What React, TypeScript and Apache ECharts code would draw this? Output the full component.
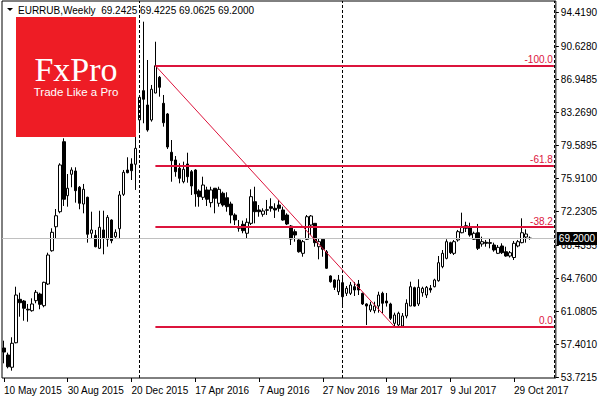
import React, { useEffect, useRef } from "react";
import * as echarts from "echarts";

// ---- categories (weekly bars, MT4 style; the week of 3 Jan 2016 has no bar) ----
const firstWeekUTC = Date.UTC(2015, 4, 10);
const missingWeeks = ["2016-01-03"];
const slotCount = 139; // bars + empty future slots
const monthNames = ["Jan", "Feb", "Mar", "Apr", "May", "Jun", "Jul", "Aug", "Sep", "Oct", "Nov", "Dec"];

function buildWeeks(): string[] {
  const out: string[] = [];
  let t = firstWeekUTC;
  while (out.length < slotCount) {
    const d = new Date(t);
    const iso = d.toISOString().slice(0, 10);
    if (!missingWeeks.includes(iso)) {
      out.push(`${d.getUTCDate()} ${monthNames[d.getUTCMonth()]} ${d.getUTCFullYear()}`);
    }
    t += 7 * 86400000;
  }
  return out;
}
const weeks = buildWeeks();

// ---- OHLC values ----
const opens = [
  56.96, 56.18, 54.81, 57.55, 62.40, 62.21, 61.29, 61.13, 62.25, 62.99,
  61.69, 64.11, 67.83, 70.51, 72.19, 80.01, 73.98, 76.37, 76.74, 74.92,
  73.05, 73.80, 69.78, 69.55, 68.10, 70.15, 69.11, 71.26, 69.40, 70.29,
  74.13, 76.85, 77.52, 77.49, 82.44, 85.71, 84.11, 82.44, 85.45, 87.21,
  84.30, 83.11, 78.83, 77.97, 77.04, 75.54, 77.52, 76.66, 76.85, 74.50,
  73.80, 74.62, 73.20, 74.81, 73.13, 74.25, 73.75, 73.05, 71.82, 70.51,
  70.78, 69.78, 70.89, 73.31, 72.38, 71.90, 72.40, 72.75, 72.57, 72.94,
  72.38, 71.82, 70.59, 69.96, 69.03, 67.54, 69.11, 70.70, 70.89, 68.28,
  69.11, 67.72, 65.01, 64.56, 63.25, 64.26, 63.07, 63.07, 63.81, 64.11,
  63.07, 61.88, 61.21, 61.13, 61.65, 63.07, 62.21, 61.88, 59.72, 59.53,
  59.42, 60.54, 61.65, 63.70, 61.88, 63.14, 62.88, 63.63, 63.81, 64.48,
  66.05, 66.98, 68.73, 67.54, 69.03, 69.84, 70.62, 70.51, 69.11, 69.84,
  68.58, 68.77, 68.73, 68.47, 67.54, 68.36, 67.72, 67.24, 67.07, 68.36,
  68.73, 69.36, 69.2425,
];
const highs = [
  57.78, 56.44, 58.16, 63.81, 63.14, 62.32, 61.88, 62.51, 63.44, 63.14,
  64.37, 67.61, 70.34, 72.49, 77.60, 80.39, 76.40, 77.15, 77.15, 75.06,
  75.29, 73.87, 72.19, 70.15, 72.30, 72.30, 71.82, 71.34, 70.22, 74.50,
  76.85, 78.27, 78.16, 80.76, 85.12, 93.42, 89.14, 86.35, 91.18, 87.35,
  85.23, 83.22, 80.20, 78.41, 77.60, 77.78, 78.78, 76.85, 76.93, 74.69,
  76.10, 74.98, 74.98, 74.81, 74.98, 74.43, 74.36, 73.31, 72.01, 71.26,
  71.19, 71.45, 74.69, 74.98, 72.94, 72.57, 73.50, 73.69, 73.13, 73.50,
  72.75, 72.01, 70.70, 70.22, 69.11, 69.03, 71.82, 71.82, 70.89, 69.22,
  69.11, 67.91, 65.08, 64.64, 65.12, 64.86, 63.89, 64.34, 64.34, 64.56,
  63.14, 61.96, 62.13, 62.13, 63.25, 63.25, 63.11, 62.02, 60.91, 61.02,
  60.87, 62.40, 64.37, 63.81, 64.64, 63.81, 63.89, 64.00, 64.70, 67.24,
  67.91, 69.11, 68.84, 69.03, 70.15, 72.08, 71.07, 70.96, 69.96, 70.82,
  69.40, 69.03, 69.25, 68.73, 68.47, 68.66, 68.28, 67.80, 68.92, 69.03,
  71.45, 70.22, 69.4225,
];
const lows = [
  55.25, 54.69, 54.43, 57.49, 60.46, 60.01, 59.90, 61.02, 61.96, 61.29,
  61.51, 64.00, 67.72, 69.22, 72.01, 72.83, 72.75, 74.92, 73.20, 72.46,
  72.01, 68.73, 69.22, 68.21, 68.02, 67.43, 68.28, 68.66, 69.22, 69.22,
  73.95, 76.48, 75.73, 74.62, 81.32, 82.07, 81.13, 82.25, 85.42, 85.04,
  81.69, 79.20, 75.54, 76.10, 75.36, 75.36, 75.43, 74.06, 72.75, 72.75,
  73.50, 72.83, 72.68, 72.01, 72.75, 72.75, 72.19, 70.89, 70.70, 69.96,
  69.78, 69.22, 70.70, 70.89, 71.63, 71.63, 71.82, 72.19, 71.49, 72.19,
  71.19, 70.70, 68.47, 68.84, 67.61, 67.16, 69.03, 69.59, 68.28, 66.87,
  67.16, 65.80, 64.26, 63.44, 62.88, 61.77, 62.77, 62.88, 62.77, 62.88,
  61.77, 59.53, 60.98, 60.84, 60.91, 60.84, 61.59, 60.09, 59.34, 59.40,
  59.38, 60.28, 61.65, 61.59, 61.65, 62.69, 62.55, 63.14, 63.74, 64.37,
  65.87, 66.87, 67.46, 67.35, 68.84, 69.78, 69.92, 69.40, 69.03, 67.91,
  68.28, 68.28, 68.10, 67.72, 67.46, 67.46, 67.16, 67.07, 66.79, 68.21,
  68.66, 68.73, 69.0625,
];
const closes = [
  56.51, 54.87, 57.49, 62.88, 62.02, 61.40, 61.21, 61.88, 63.19, 61.84,
  64.30, 67.35, 69.89, 71.74, 77.41, 73.58, 74.81, 76.85, 74.54, 73.13,
  74.69, 69.67, 70.15, 68.28, 70.45, 69.22, 71.56, 68.95, 69.89, 74.06,
  76.59, 76.55, 76.77, 79.27, 84.97, 84.75, 81.32, 85.87, 88.50, 86.09,
  82.13, 79.42, 77.89, 76.66, 75.92, 76.93, 76.10, 75.06, 74.17, 73.87,
  75.17, 73.58, 74.62, 73.69, 74.69, 72.94, 72.75, 71.82, 71.26, 70.34,
  70.07, 71.01, 73.87, 72.19, 72.19, 72.27, 72.36, 72.57, 72.38, 72.57,
  71.26, 70.82, 69.14, 69.59, 67.72, 68.84, 71.63, 71.71, 68.73, 68.84,
  67.99, 65.87, 64.37, 63.74, 64.56, 62.69, 63.63, 64.00, 63.44, 63.44,
  61.88, 61.65, 61.77, 61.65, 62.88, 61.96, 61.99, 60.28, 60.65, 60.84,
  60.54, 61.96, 63.81, 61.65, 63.74, 63.63, 63.74, 63.44, 64.56, 66.49,
  67.54, 68.84, 67.61, 68.84, 69.96, 70.45, 70.34, 69.59, 69.78, 68.10,
  68.84, 68.66, 68.66, 67.91, 68.21, 67.61, 67.24, 67.61, 68.66, 68.84,
  69.84, 69.70, 69.2,
];

// ---- price scale tick labels (as printed by the terminal) ----
const priceTicks = [53.7215, 57.401, 61.0805, 64.76, 68.4355, 72.2305, 75.91, 79.5895, 83.269, 86.9485, 90.628, 94.419];

// ---- year separators (bar indices) ----
const separatorBars = [34, 85, 138];

// ---- Fibonacci retracement ----
const fibHighBar = 38;
const fibLowBar = 98;
const fibHigh = 88.5;
const fibLow = 59.34;
const fibLevels = [0, 38.2, 61.8, 100];
const fibEndBar = 138;

const titleText = "EURRUB,Weekly  69.2425 69.4225 69.0625 69.2000";
const lastPrice = 69.2;

const FIB_COLOR = "#DC143C";
const FONT = "Liberation Sans";

export default function App() {
  const ref = useRef<HTMLDivElement>(null);
  useEffect(() => {
    document.body.style.margin = "0";
    if (!ref.current) return;
    const chart = echarts.init(ref.current, undefined, { renderer: "svg" });

    const candles = opens.map((o, i) => [o, closes[i], lows[i], highs[i]]);
    const everySixteen = (i: number) => i % 16 === 0;

    const markData: any[] = [];
    separatorBars.forEach((b) => {
      markData.push({
        xAxis: b,
        lineStyle: { color: "#000", type: [3, 2], width: 1 },
        label: { show: false },
      });
    });
    markData.push({
      yAxis: lastPrice,
      lineStyle: { color: "#C0C0C0", type: "solid", width: 1 },
      label: {
        show: true,
        position: "end",
        distance: 1,
        formatter: lastPrice.toFixed(4),
        backgroundColor: "#000",
        color: "#fff",
        padding: [2, 2, 1, 2],
        fontSize: 10,
        fontFamily: FONT,
      },
    });
    fibLevels.forEach((lv) => {
      const v = fibLow + ((fibHigh - fibLow) * lv) / 100;
      markData.push([
        {
          coord: [fibHighBar, v],
          lineStyle: { color: FIB_COLOR, width: 2, type: "solid" },
          label: {
            show: true,
            position: "insideEndTop",
            distance: 1,
            formatter: lv === 0 ? "0.0" : "-" + lv.toFixed(1),
            color: FIB_COLOR,
            fontSize: 10,
            fontFamily: FONT,
          },
        },
        { coord: [fibEndBar, v] },
      ]);
    });
    markData.push([
      {
        coord: [fibHighBar, fibHigh],
        lineStyle: { color: FIB_COLOR, width: 1, type: "solid" },
        label: { show: false },
      },
      { coord: [fibLowBar, fibLow] },
    ]);

    chart.setOption({
      animation: false,
      backgroundColor: "#fff",
      textStyle: { fontFamily: FONT },
      grid: {
        left: 2,
        right: 43,
        top: 1,
        bottom: 22,
        show: true,
        borderColor: "#000",
        borderWidth: 1,
        backgroundColor: "transparent",
      },
      xAxis: {
        type: "category",
        data: weeks,
        boundaryGap: true,
        axisLine: { show: false },
        axisTick: {
          show: true,
          alignWithLabel: true,
          interval: everySixteen,
          length: 4,
          lineStyle: { color: "#000" },
        },
        axisLabel: {
          interval: everySixteen,
          align: "left",
          margin: 7,
          color: "#000",
          fontSize: 10,
          fontFamily: FONT,
        },
        splitLine: { show: false },
      },
      yAxis: {
        type: "value",
        position: "right",
        min: 53.61,
        max: 95.73,
        axisLine: { show: false },
        axisTick: {
          show: true,
          customValues: priceTicks,
          length: 3,
          lineStyle: { color: "#000" },
        },
        axisLabel: {
          customValues: priceTicks,
          formatter: (v: number) => v.toFixed(4),
          margin: 5,
          color: "#000",
          fontSize: 10,
          fontFamily: FONT,
        },
        splitLine: { show: false },
      },
      series: [
        {
          type: "candlestick",
          data: candles,
          barWidth: 3,
          itemStyle: {
            color: "#fff",
            color0: "#000",
            borderColor: "#000",
            borderColor0: "#000",
            borderWidth: 1,
          },
          markLine: {
            symbol: ["none", "none"],
            silent: true,
            animation: false,
            data: markData,
          },
        },
      ],
      graphic: [
        {
          type: "polygon",
          shape: { points: [[7, 8], [13, 8], [10, 11]] },
          style: { fill: "#000" },
          z: 100,
        },
        {
          type: "text",
          x: 18,
          y: 10,
          z: 100,
          style: {
            text: titleText,
            fill: "#000",
            font: `10px "${FONT}"`,
            textAlign: "left",
            textVerticalAlign: "middle",
            align: "left",
            verticalAlign: "middle",
          },
        },
        {
          type: "rect",
          shape: { x: 16, y: 17, width: 120, height: 120 },
          style: { fill: "#EE1C25" },
          z: 100,
        },
        {
          type: "text",
          x: 76,
          y: 69,
          z: 101,
          style: {
            text: "FxPro",
            fill: "#fff",
            font: '34px "Liberation Serif"',
            textAlign: "center",
            textVerticalAlign: "middle",
            align: "center",
            verticalAlign: "middle",
          },
        },
        {
          type: "text",
          x: 76,
          y: 92,
          z: 101,
          style: {
            text: "Trade Like a Pro",
            fill: "#fff",
            font: `11.5px "${FONT}"`,
            textAlign: "center",
            textVerticalAlign: "middle",
            align: "center",
            verticalAlign: "middle",
          },
        },
      ],
    });
    return () => chart.dispose();
  }, []);
  return <div ref={ref} style={{ width: 600, height: 400 }} />;
}
